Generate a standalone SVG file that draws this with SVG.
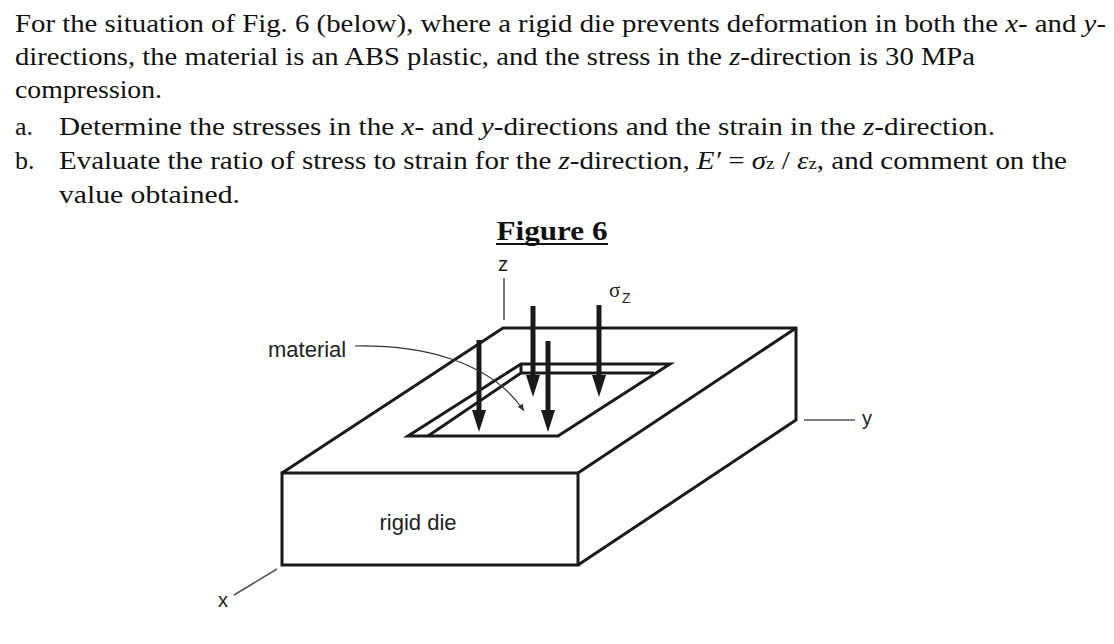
<svg xmlns="http://www.w3.org/2000/svg" width="1114" height="644" viewBox="0 0 1114 644">
<style>
.q{font-family:"Liberation Serif","Times New Roman",serif;font-size:26px;fill:#111}
.i{font-style:italic}
.sub{font-size:17px}
.lbl{font-family:"Liberation Sans",Arial,sans-serif;font-size:22px;fill:#222}
.ax{font-family:"Liberation Sans",Arial,sans-serif;font-size:20px;fill:#222}
.die{fill:none;stroke:#1a1a1a;stroke-width:3;stroke-linejoin:miter}
.axl{stroke:#555;stroke-width:1.6;fill:none}
.force{stroke:#1a1a1a;stroke-width:5;fill:none}
.lead{stroke:#333;stroke-width:1.2;fill:none}
</style>
<defs>
<marker id="head" viewBox="0 -7 22 14" refX="0" refY="0" markerWidth="22" markerHeight="14" markerUnits="userSpaceOnUse" orient="auto">
<path d="M0,-7 L22,0 L0,7 z" fill="#1a1a1a"/>
</marker>
<marker id="small" viewBox="0 -3 7 6" refX="7" refY="0" markerWidth="7" markerHeight="6" markerUnits="userSpaceOnUse" orient="auto">
<path d="M0,-3 L7,0 L0,3 z" fill="#333"/>
</marker>
</defs>
<rect width="1114" height="644" fill="#fff"/>

<g id="question">
<text class="q" x="15" y="32" textLength="1091" lengthAdjust="spacingAndGlyphs">For the situation of Fig. 6 (below), where a rigid die prevents deformation in both the <tspan class="i">x</tspan>- and <tspan class="i">y</tspan>-</text>
<text class="q" x="15" y="65" textLength="960" lengthAdjust="spacingAndGlyphs">directions, the material is an ABS plastic, and the stress in the <tspan class="i">z</tspan>-direction is 30 MPa</text>
<text class="q" x="15" y="98" textLength="147" lengthAdjust="spacingAndGlyphs">compression.</text>
<text class="q" x="15" y="135">a.</text>
<text class="q" x="59" y="135" textLength="936" lengthAdjust="spacingAndGlyphs">Determine the stresses in the <tspan class="i">x</tspan>- and <tspan class="i">y</tspan>-directions and the strain in the <tspan class="i">z</tspan>-direction.</text>
<text class="q" x="15" y="169">b.</text>
<text class="q" x="59" y="169" textLength="1008" lengthAdjust="spacingAndGlyphs">Evaluate the ratio of stress to strain for the <tspan class="i">z</tspan>-direction, <tspan class="i">E′</tspan> = <tspan class="i">σ</tspan><tspan class="sub">z</tspan> / <tspan class="i">ε</tspan><tspan class="sub">z</tspan>, and comment on the</text>
<text class="q" x="59" y="203" textLength="181" lengthAdjust="spacingAndGlyphs">value obtained.</text>
</g>

<g id="title">
<text x="552" y="240" text-anchor="middle" font-family="Liberation Serif, serif" font-size="27" font-weight="bold" fill="#111" textLength="111" lengthAdjust="spacingAndGlyphs">Figure 6</text>
<line x1="496" y1="244" x2="608" y2="244" stroke="#111" stroke-width="2"/>
</g>

<g id="die">
<rect class="die" x="282" y="473" width="296" height="92"/>
<path class="die" d="M282,473 L503,328 L796,328 L796,420 L578,565 M796,328 L578,473"/>
<text class="lbl" x="418" y="530" text-anchor="middle">rigid die</text>
</g>

<g id="material">
<path class="die" d="M408,436 L521,364 L670,364 L558,436 Z"/>
<path class="die" d="M521,364 L521,373 L654,373 M521,373 L428,436"/>
<text class="lbl" x="268" y="357">material</text>
</g>

<g id="axes">
<line class="axl" x1="504" y1="278" x2="504" y2="320"/>
<text class="ax" x="503" y="271" text-anchor="middle">z</text>
<line class="axl" x1="804" y1="420" x2="855" y2="420"/>
<text class="ax" x="867" y="425" text-anchor="middle">y</text>
<line class="axl" x1="277" y1="569" x2="234" y2="595"/>
<text class="ax" x="223" y="607" text-anchor="middle">x</text>
<text x="609" y="297" font-family="Liberation Serif, serif" font-size="21" fill="#222">σ</text>
<text x="622" y="303" font-family="Liberation Sans, Arial, sans-serif" font-size="14" fill="#222">Z</text>
</g>

<g id="connectors">
<line class="force" x1="479" y1="340" x2="479" y2="410" marker-end="url(#head)"/>
<line class="force" x1="533" y1="306" x2="533" y2="375" marker-end="url(#head)"/>
<line class="force" x1="548" y1="341" x2="548" y2="410" marker-end="url(#head)"/>
<line class="force" x1="599" y1="305" x2="599" y2="375" marker-end="url(#head)"/>
<path class="lead" d="M355,346 C420,345 490,360 524,411" marker-end="url(#small)"/>
</g>
</svg>
